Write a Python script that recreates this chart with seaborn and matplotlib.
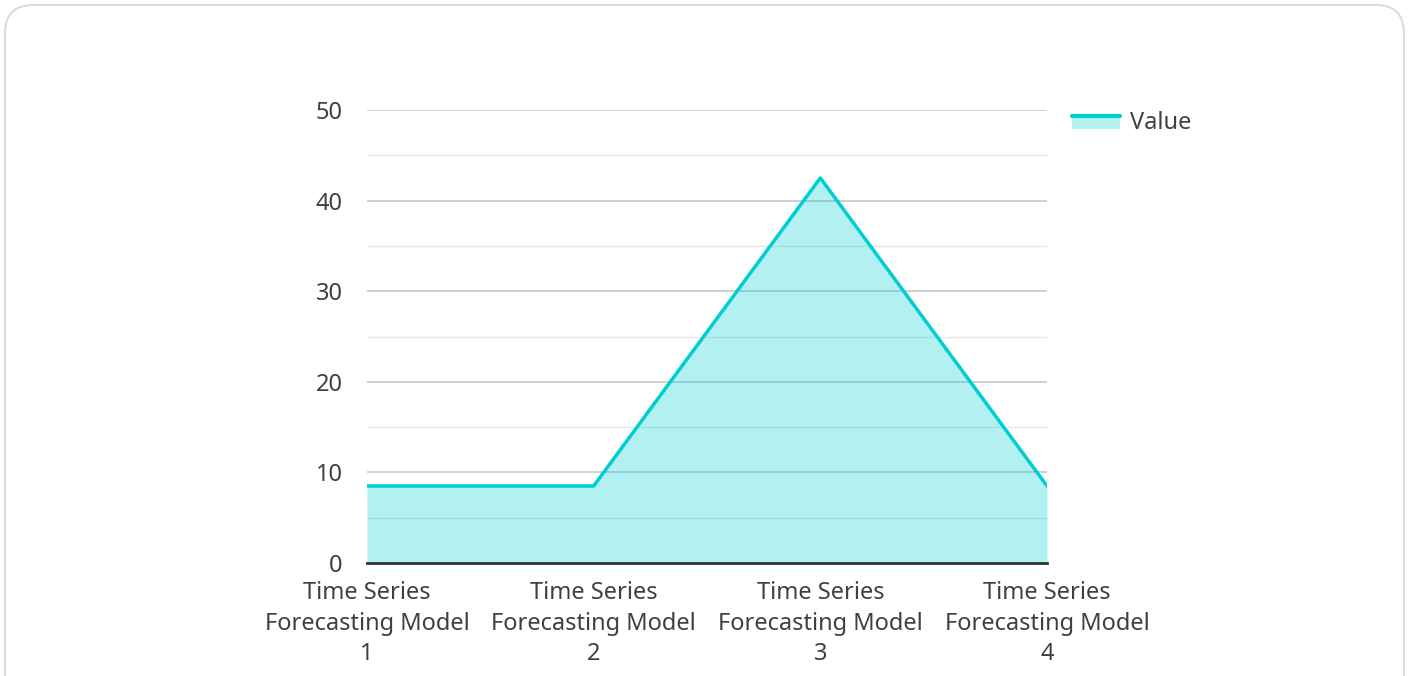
import matplotlib
matplotlib.use("Agg")
import matplotlib.pyplot as plt
from matplotlib.patches import FancyBboxPatch, Rectangle
from matplotlib.lines import Line2D
from matplotlib.legend_handler import HandlerBase
from matplotlib.ticker import MultipleLocator
import seaborn as sns
import pandas as pd

categories = ["Time Series\nForecasting Model\n1",
              "Time Series\nForecasting Model\n2",
              "Time Series\nForecasting Model\n3",
              "Time Series\nForecasting Model\n4"]
values = [8.5, 8.5, 42.5, 8.5]
y_ticks = [0, 10, 20, 30, 40, 50]
series_name = "Value"

line_color = "#00CED1"
text_color = "#404040"

sns.set_theme(style="white")
plt.rcParams["font.family"] = ["Noto Sans", "DejaVu Sans"]

df = pd.DataFrame({"pos": range(len(categories)), "val": values})

fig = plt.figure(figsize=(14.09, 6.76), dpi=100)
W, H = 1409, 676
ax = fig.add_axes([367 / W, 1 - 563 / H, (1047 - 367) / W, (563 - 110) / H])

# outer rounded frame
frame = FancyBboxPatch((5 / W, -0.05), (1404 - 5) / W, (1 - 5 / H) + 0.05,
                       boxstyle="round,pad=0,rounding_size=0.02",
                       transform=fig.transFigure, facecolor="none",
                       edgecolor="#dcdcdc", linewidth=1.5, mutation_aspect=W / H)
fig.patches.append(frame)

ax.fill_between(df["pos"], df["val"], 0, color=line_color, alpha=0.3,
                linewidth=0, zorder=2)
sns.lineplot(data=df, x="pos", y="val", ax=ax, color=line_color,
             linewidth=2.5, zorder=3, legend=False)

ax.set_xlim(0, len(categories) - 1)
ax.set_ylim(0, 50)
ax.set_yticks(y_ticks)
ax.yaxis.set_minor_locator(MultipleLocator(5))
ax.grid(which="major", axis="y", color="#c8c8c8", linewidth=1.2, zorder=1)
ax.grid(which="minor", axis="y", color="#e8e8e8", linewidth=1.0, zorder=1)
ax.set_axisbelow(True)
ax.set_xticks(range(len(categories)))
ax.set_xticklabels(categories, linespacing=1.36)
ax.tick_params(axis="both", length=0, labelsize=17, labelcolor=text_color)
ax.tick_params(axis="y", pad=17.5)
ax.tick_params(axis="x", pad=13)
ax.set_xlabel("")
ax.set_ylabel("")
for side in ["left", "right", "top"]:
    ax.spines[side].set_visible(False)
ax.spines["bottom"].set_color("#333333")
ax.spines["bottom"].set_linewidth(2)
ax.spines["bottom"].set_zorder(4)


class AreaHandler(HandlerBase):
    def create_artists(self, legend, orig_handle, xdescent, ydescent,
                       width, height, fontsize, trans):
        top = height * 0.85
        rect = Rectangle((-xdescent, -ydescent), width, top, facecolor=line_color,
                         alpha=0.3, edgecolor="none", transform=trans)
        ln = Line2D([-xdescent, -xdescent + width], [top - ydescent, top - ydescent],
                    color=line_color, linewidth=3, transform=trans)
        return [rect, ln]


proxy = Rectangle((0, 0), 1, 1)
leg = fig.legend([proxy], [series_name], handler_map={Rectangle: AreaHandler()},
                 loc="upper left", bbox_to_anchor=(1063 / W, 1 - 102 / H),
                 frameon=False, fontsize=17, handlelength=2.0, handleheight=0.65,
                 handletextpad=0.45, borderaxespad=0)
for t in leg.get_texts():
    t.set_color(text_color)

fig.savefig("out.png", dpi=100)
